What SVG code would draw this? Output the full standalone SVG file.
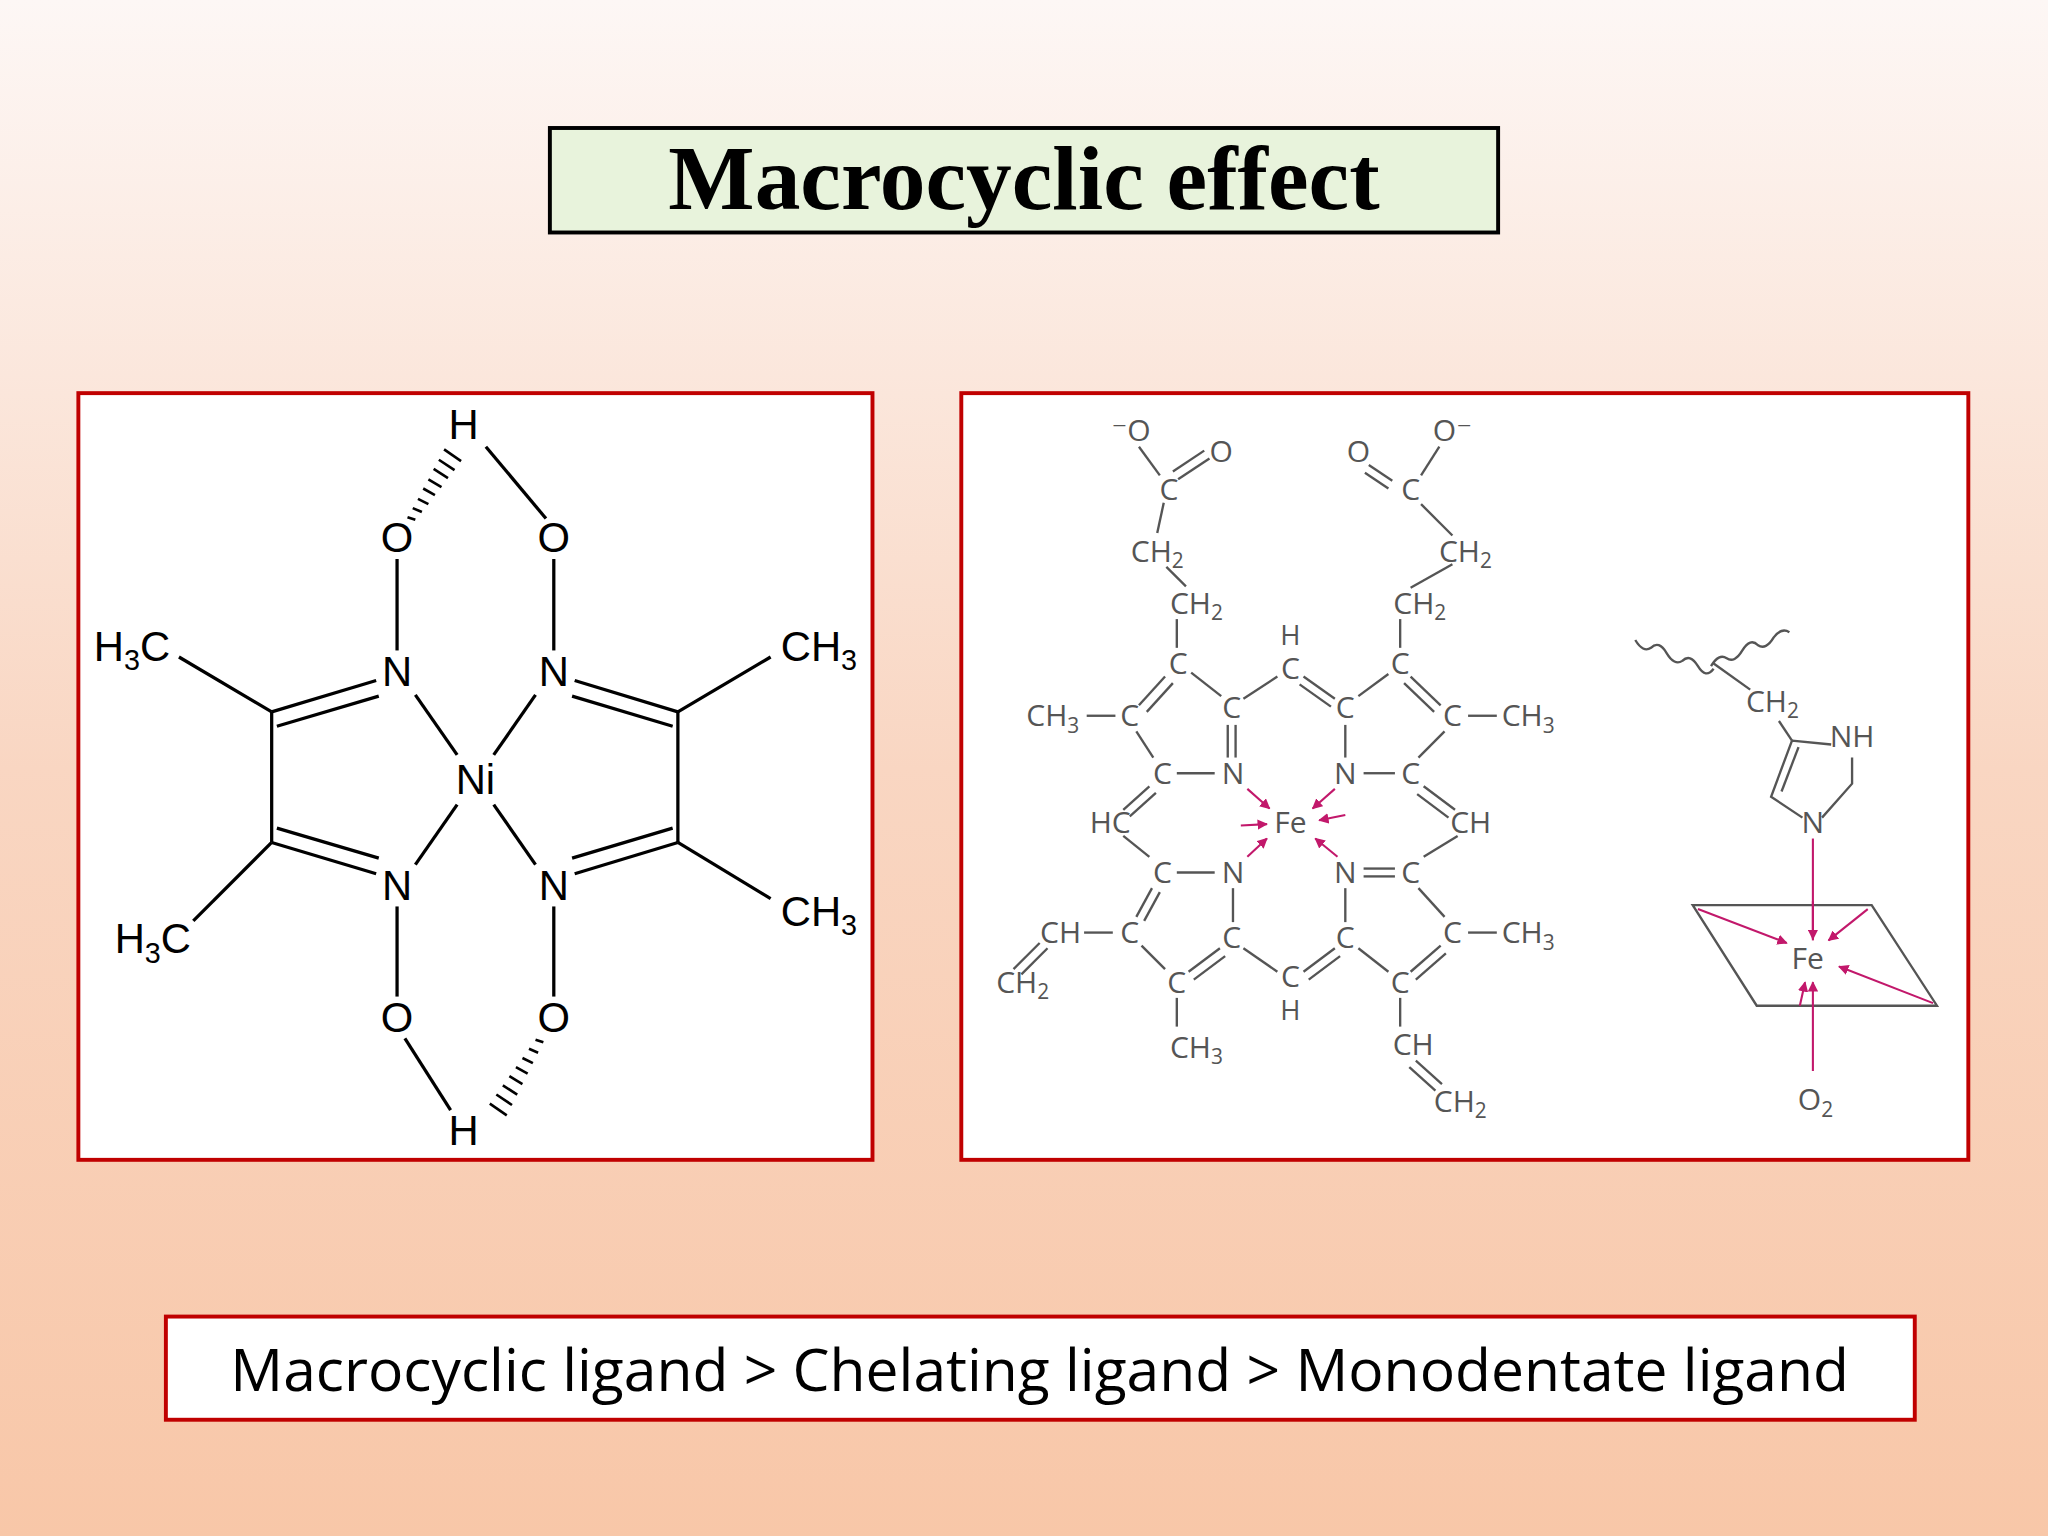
<svg xmlns="http://www.w3.org/2000/svg" width="2048" height="1536" viewBox="0 0 2048 1536">
<defs>
<linearGradient id="bg" x1="0" y1="0" x2="0" y2="1"><stop offset="0" stop-color="#fdf7f5"/><stop offset="0.5" stop-color="#f9d6c2"/><stop offset="1" stop-color="#f8c7a8"/></linearGradient>
<marker id="ma" viewBox="0 0 10 10" refX="9" refY="5" markerWidth="5" markerHeight="5" orient="auto"><path d="M0,0 L10,5 L0,10 z" fill="#c2186b"/></marker>
<style>
.box{fill:#fff;stroke:#c00000;stroke-width:3}
.b{stroke:#000;stroke-width:2.5;fill:none}
.g{stroke:#555;stroke-width:1.8;fill:none}
.m{stroke:#c2186b;stroke-width:1.6;fill:none;marker-end:url(#ma)}
.t{font-family:"Liberation Sans",Arial,sans-serif;font-size:32px;fill:#000;text-anchor:middle}
.h{font-family:"Open Sans","DejaVu Sans",sans-serif;font-size:23px;fill:#555;text-anchor:middle}
</style>
</defs>
<rect width="2048" height="1536" fill="url(#bg)"/>
<g transform="scale(1.30612)">
<g id="title"><rect x="421" y="98" width="726" height="80" fill="#e8f3dc" stroke="#000" stroke-width="3"/>
<text x="784" y="160" font-family="Liberation Serif,serif" font-weight="bold" font-size="70" text-anchor="middle">Macrocyclic effect</text></g>

<g id="ni-complex">
<rect class="box" x="60" y="301" width="608" height="587"/>
<g class="b">
<line x1="318" y1="532" x2="350" y2="578"/><line x1="410" y1="532" x2="378" y2="578"/>
<line x1="318" y1="662" x2="350" y2="616"/><line x1="410" y1="662" x2="378" y2="616"/>
<line x1="304" y1="428" x2="304" y2="498"/><line x1="424" y1="428" x2="424" y2="498"/>
<line x1="304" y1="694" x2="304" y2="763"/><line x1="424" y1="694" x2="424" y2="763"/>
<line x1="418" y1="397" x2="372" y2="342"/><line x1="310" y1="795" x2="345" y2="850"/>
<line x1="208" y1="545" x2="288" y2="521"/><line x1="212" y1="556" x2="290" y2="533"/>
<line x1="208" y1="645" x2="288" y2="669"/><line x1="212" y1="634" x2="290" y2="657"/>
<line x1="440" y1="521" x2="519" y2="545"/><line x1="438" y1="533" x2="515" y2="556"/>
<line x1="440" y1="669" x2="519" y2="645"/><line x1="438" y1="657" x2="515" y2="634"/>
<line x1="208" y1="545" x2="208" y2="645"/><line x1="519" y1="545" x2="519" y2="645"/>
<line x1="208" y1="545" x2="137" y2="503"/><line x1="208" y1="645" x2="148" y2="705"/>
<line x1="519" y1="545" x2="590" y2="503"/><line x1="519" y1="645" x2="590" y2="688"/>
</g>
<g stroke="#000" stroke-width="2">
<line x1="312" y1="396" x2="318" y2="398"/><line x1="316" y1="389" x2="323" y2="392"/><line x1="320" y1="382" x2="328" y2="386"/><line x1="324" y1="374" x2="333" y2="379"/><line x1="328" y1="367" x2="338" y2="373"/><line x1="332" y1="359" x2="343" y2="366"/><line x1="336" y1="352" x2="348" y2="360"/><line x1="340" y1="344" x2="353" y2="353"/>
<line x1="410" y1="796" x2="416" y2="798"/><line x1="405" y1="803" x2="412" y2="806"/><line x1="400" y1="810" x2="408" y2="814"/><line x1="395" y1="817" x2="404" y2="822"/><line x1="390" y1="824" x2="400" y2="830"/><line x1="385" y1="831" x2="396" y2="838"/><line x1="380" y1="838" x2="392" y2="846"/><line x1="375" y1="845" x2="388" y2="854"/>
</g>
<text class="t" x="364" y="608">Ni</text>
<text class="t" x="304" y="525">N</text><text class="t" x="424" y="525">N</text>
<text class="t" x="304" y="689">N</text><text class="t" x="424" y="689">N</text>
<text class="t" x="304" y="423">O</text><text class="t" x="424" y="423">O</text>
<text class="t" x="304" y="790">O</text><text class="t" x="424" y="790">O</text>
<text class="t" x="355" y="336">H</text><text class="t" x="355" y="877">H</text>
<text class="t" x="101" y="506">H<tspan font-size="22" dy="7">3</tspan><tspan dy="-7">C</tspan></text>
<text class="t" x="117" y="730">H<tspan font-size="22" dy="7">3</tspan><tspan dy="-7">C</tspan></text>
<text class="t" x="627" y="506">CH<tspan font-size="22" dy="7">3</tspan></text>
<text class="t" x="627" y="709">CH<tspan font-size="22" dy="7">3</tspan></text>
</g>

<g id="heme">
<rect class="box" x="736" y="301" width="771" height="587"/>
<g class="g">
<line x1="872" y1="342" x2="888" y2="364"/>
<line x1="902" y1="367" x2="926" y2="351"/><line x1="898" y1="361" x2="922" y2="345"/>
<line x1="891" y1="385" x2="886" y2="408"/><line x1="893" y1="434" x2="908" y2="449"/>
<line x1="901" y1="474" x2="901" y2="496"/>
<line x1="892" y1="518" x2="872" y2="540"/><line x1="898" y1="523" x2="878" y2="545"/>
<line x1="832" y1="548" x2="854" y2="548"/>
<line x1="870" y1="560" x2="883" y2="580"/>
<line x1="880" y1="602" x2="860" y2="620"/><line x1="885" y1="607" x2="865" y2="625"/>
<line x1="901" y1="592" x2="930" y2="592"/>
<line x1="940" y1="555" x2="940" y2="580"/><line x1="946" y1="555" x2="946" y2="580"/>
<line x1="912" y1="515" x2="935" y2="533"/><line x1="952" y1="535" x2="978" y2="518"/>
<line x1="998" y1="518" x2="1022" y2="535"/><line x1="995" y1="524" x2="1019" y2="541"/>
<line x1="1030" y1="555" x2="1030" y2="580"/>
<line x1="1040" y1="533" x2="1063" y2="516"/>
<line x1="1080" y1="518" x2="1103" y2="540"/><line x1="1075" y1="523" x2="1098" y2="545"/>
<line x1="1072" y1="496" x2="1072" y2="474"/>
<line x1="1080" y1="450" x2="1112" y2="432"/>
<line x1="1112" y1="410" x2="1088" y2="386"/>
<line x1="1066" y1="368" x2="1048" y2="356"/><line x1="1063" y1="374" x2="1045" y2="362"/>
<line x1="1088" y1="364" x2="1102" y2="342"/>
<line x1="1124" y1="548" x2="1146" y2="548"/>
<line x1="1106" y1="560" x2="1086" y2="580"/>
<line x1="1044" y1="592" x2="1068" y2="592"/>
<line x1="1090" y1="602" x2="1114" y2="620"/><line x1="1085" y1="608" x2="1109" y2="626"/>
<line x1="860" y1="640" x2="880" y2="656"/>
<line x1="901" y1="668" x2="930" y2="668"/>
<line x1="882" y1="680" x2="870" y2="702"/><line x1="888" y1="683" x2="876" y2="705"/>
<line x1="830" y1="714" x2="852" y2="714"/>
<line x1="796" y1="722" x2="776" y2="742"/><line x1="802" y1="726" x2="782" y2="746"/>
<line x1="874" y1="724" x2="892" y2="742"/>
<line x1="910" y1="744" x2="934" y2="726"/><line x1="914" y1="750" x2="938" y2="732"/>
<line x1="901" y1="764" x2="901" y2="786"/>
<line x1="944" y1="680" x2="944" y2="706"/>
<line x1="952" y1="726" x2="978" y2="744"/>
<line x1="998" y1="744" x2="1022" y2="726"/><line x1="1002" y1="750" x2="1026" y2="732"/>
<line x1="1044" y1="665" x2="1068" y2="665"/><line x1="1044" y1="671" x2="1068" y2="671"/>
<line x1="1030" y1="680" x2="1030" y2="706"/>
<line x1="1040" y1="726" x2="1063" y2="744"/>
<line x1="1080" y1="744" x2="1103" y2="724"/><line x1="1084" y1="750" x2="1107" y2="730"/>
<line x1="1086" y1="680" x2="1106" y2="702"/>
<line x1="1116" y1="640" x2="1090" y2="656"/>
<line x1="1124" y1="714" x2="1146" y2="714"/>
<line x1="1072" y1="764" x2="1072" y2="786"/>
<line x1="1084" y1="812" x2="1104" y2="830"/><line x1="1079" y1="817" x2="1099" y2="835"/>
</g>
<g class="h">
<text x="866" y="338">⁻O</text><text x="935" y="354">O</text><text x="895" y="383">C</text>
<text x="886" y="430">CH<tspan font-size="16" dy="5">2</tspan></text>
<text x="916" y="470">CH<tspan font-size="16" dy="5">2</tspan></text>
<text x="902" y="516">C</text><text x="865" y="556">C</text>
<text x="806" y="556">CH<tspan font-size="16" dy="5">3</tspan></text>
<text x="943" y="550">C</text><text x="988" y="520">C</text><text x="988" y="494" font-size="21">H</text>
<text x="1030" y="550">C</text><text x="1072" y="516">C</text><text x="1112" y="556">C</text>
<text x="1170" y="556">CH<tspan font-size="16" dy="5">3</tspan></text>
<text x="1087" y="470">CH<tspan font-size="16" dy="5">2</tspan></text>
<text x="1122" y="430">CH<tspan font-size="16" dy="5">2</tspan></text>
<text x="1080" y="383">C</text><text x="1040" y="354">O</text><text x="1112" y="338">O⁻</text>
<text x="890" y="600">C</text><text x="944" y="600">N</text><text x="1030" y="600">N</text><text x="1080" y="600">C</text>
<text x="850" y="638">HC</text><text x="1126" y="638">CH</text><text x="988" y="638">Fe</text>
<text x="890" y="676">C</text><text x="944" y="676">N</text><text x="1030" y="676">N</text><text x="1080" y="676">C</text>
<text x="865" y="722">C</text><text x="812" y="722">CH</text>
<text x="783" y="760">CH<tspan font-size="16" dy="5">2</tspan></text>
<text x="901" y="760">C</text><text x="943" y="726">C</text>
<text x="988" y="756">C</text><text x="988" y="781" font-size="21">H</text>
<text x="1030" y="726">C</text><text x="1072" y="760">C</text><text x="1112" y="722">C</text>
<text x="1170" y="722">CH<tspan font-size="16" dy="5">3</tspan></text>
<text x="916" y="810">CH<tspan font-size="16" dy="5">3</tspan></text>
<text x="1082" y="808">CH</text>
<text x="1118" y="851">CH<tspan font-size="16" dy="5">2</tspan></text>
</g>
<g>
<line class="m" x1="955" y1="604" x2="972" y2="619"/>
<line class="m" x1="1022" y1="604" x2="1005" y2="619"/>
<line class="m" x1="950" y1="632" x2="970" y2="631"/>
<line class="m" x1="1030" y1="624" x2="1010" y2="628"/>
<line class="m" x1="955" y1="656" x2="970" y2="642"/>
<line class="m" x1="1024" y1="656" x2="1007" y2="642"/>
</g>
</g>

<g id="myoglobin">
<path class="g" d="M1252,490 q6,10 12,6 q6,-6 12,4 q6,10 12,6 q6,-6 12,4 q6,10 12,2"/>
<path class="g" d="M1310,510 q6,-10 12,-6 q6,4 12,-6 q6,-10 12,-4 q6,4 12,-6 q6,-8 12,-4"/>
<line class="g" x1="1312" y1="508" x2="1340" y2="528"/>
<text class="h" x="1357" y="545">CH<tspan font-size="16" dy="5">2</tspan></text>
<line class="g" x1="1362" y1="552" x2="1372" y2="567"/>
<path class="g" d="M1372,567 L1402,570 M1372,567 L1356,610 L1380,626 M1395,626 L1418,600 L1418,580"/>
<line class="g" x1="1364" y1="606" x2="1377" y2="572"/>
<text class="h" x="1418" y="572">NH</text>
<text class="h" x="1388" y="638">N</text>
<path class="g" d="M1296,693 L1433,693 L1483,770 L1345,770 Z"/>
<text class="h" x="1384" y="742">Fe</text>
<line x1="1388" y1="642" x2="1388" y2="720" stroke="#c2186b" stroke-width="1.6"/>
<line class="m" x1="1388" y1="690" x2="1388" y2="719"/>
<line class="m" x1="1300" y1="696" x2="1368" y2="722"/>
<line class="m" x1="1430" y1="696" x2="1400" y2="720"/>
<line class="m" x1="1480" y1="768" x2="1408" y2="740"/>
<line class="m" x1="1388" y1="820" x2="1388" y2="752"/>
<line class="m" x1="1378" y1="770" x2="1382" y2="752"/>
<text class="h" x="1390" y="850">O<tspan font-size="16" dy="5">2</tspan></text>
</g>

<g id="caption"><rect class="box" x="127" y="1008" width="1339" height="79"/>
<text x="796" y="1065" font-family="Open Sans,DejaVu Sans,sans-serif" font-size="45" text-anchor="middle">Macrocyclic ligand &gt; Chelating ligand &gt; Monodentate ligand</text></g>
</g>
</svg>
